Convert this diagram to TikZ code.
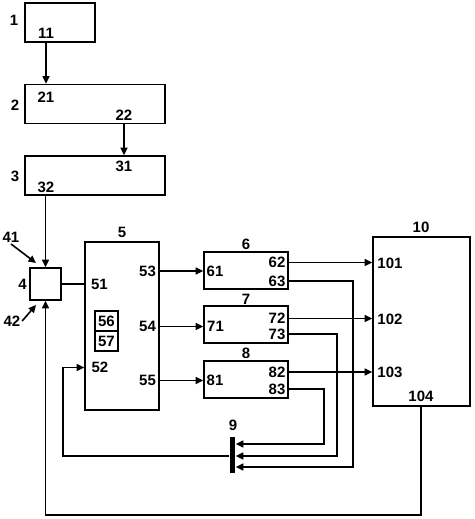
\documentclass[tikz,border=0pt]{standalone}
\usepackage{fontspec}
\setmainfont{Liberation Sans}
\usetikzlibrary{arrows.meta}

\tikzset{
  box/.style={draw, rectangle, inner sep=0pt},
  lbl/.style={inner sep=1pt, font=\fontsize{15}{17}\selectfont\bfseries},
}

\begin{document}
\begin{tikzpicture}[x=1pt, y=-1pt, line width=1.6pt,
    >={Triangle[length=7.5pt,width=7pt]}]
            \useasboundingbox (0,0) rectangle (474,519);
            % blocks
            \node[box, minimum width=70pt, minimum height=39pt] at (60,22.5) (b1) {};
            \node[box, minimum width=140pt, minimum height=39pt] at (95,104) (b2) {};
            \node[box, minimum width=140pt, minimum height=39pt] at (95,175.5) (b3) {};
            \node[box, minimum width=31pt, minimum height=32pt] at (45.5,284) (b4) {};
            \node[box, minimum width=74pt, minimum height=168pt] at (122,326) (b5) {};
            \node[box, minimum width=84pt, minimum height=37pt] at (246,270.5) (b6) {};
            \node[box, minimum width=84pt, minimum height=37pt] at (246,324.5) (b7) {};
            \node[box, minimum width=84pt, minimum height=37pt] at (246,379.5) (b8) {};
            \node[fill, inner sep=0pt, minimum width=5pt, minimum height=36pt] at (232.5,455) (b9) {};
            \node[box, minimum width=97pt, minimum height=169pt] at (421.5,321.5) (b10) {};
            \node[box, lbl, minimum width=23pt, minimum height=20pt] at (106.5,321) (b56) {56};
            \node[box, lbl, minimum width=23pt, minimum height=20pt] at (106.5,341) (b57) {57};
            % labels
            \node[lbl] at (14,20.5) (n1) {1};
            \node[lbl] at (46,33) (p11) {11};
            \node[lbl] at (15,105.5) (n2) {2};
            \node[lbl] at (46,97) (p21) {21};
            \node[lbl] at (124,115) (p22) {22};
            \node[lbl] at (15,176.5) (n3) {3};
            \node[lbl] at (124,166.5) (p31) {31};
            \node[lbl] at (46,187.5) (p32) {32};
            \node[lbl] at (22.5,284.5) (n4) {4};
            \node[lbl] at (11,237) (p41) {41};
            \node[lbl] at (12,321) (p42) {42};
            \node[lbl] at (122,232) (n5) {5};
            \node[lbl] at (99.5,284) (p51) {51};
            \node[lbl] at (100,367.5) (p52) {52};
            \node[lbl] at (147.5,271) (p53) {53};
            \node[lbl] at (147.5,326.5) (p54) {54};
            \node[lbl] at (147.5,380.5) (p55) {55};
            \node[lbl] at (246,244) (n6) {6};
            \node[lbl] at (215,271) (p61) {61};
            \node[lbl] at (277,262.5) (p62) {62};
            \node[lbl] at (277,281) (p63) {63};
            \node[lbl] at (246,299) (n7) {7};
            \node[lbl] at (215.5,326) (p71) {71};
            \node[lbl] at (277,318.5) (p72) {72};
            \node[lbl] at (277,334) (p73) {73};
            \node[lbl] at (246,353) (n8) {8};
            \node[lbl] at (215,380.5) (p81) {81};
            \node[lbl] at (277,372) (p82) {82};
            \node[lbl] at (277,389) (p83) {83};
            \node[lbl] at (233,425) (n9) {9};
            \node[lbl] at (421,227.5) (n10) {10};
            \node[lbl] at (390,263) (p101) {101};
            \node[lbl] at (390,319) (p102) {102};
            \node[lbl] at (390,372.5) (p103) {103};
            \node[lbl] at (421,396) (p104) {104};
            % bends
            \coordinate (t41) at (36,263);
            \coordinate (t42) at (36,305);
            \coordinate (t63) at (353,467);
            \coordinate (t73) at (337,456);
            \coordinate (t83) at (324,444);
            \coordinate (k52) at (63,456);
            \coordinate (k104) at (45.5,515);
            % connections
            \draw[->] (b1.south -| p11) -- (b2.north -| p11);
            \draw[->] (b2.south -| p22) -- (b3.north -| p22);
            \draw[->] (b3.south -| b4) -- (b4.north);
            \draw[->] (p41.south) -- (t41);
            \draw[->] (p42.east) -- (t42);
            \draw (b4.east) -- (b5.west |- b4);
            \draw[->] (b5.east |- p53) -- (b6.west |- p53);
            \draw[->] (b5.east |- p54) -- (b7.west |- p54);
            \draw[->] (b5.east |- p55) -- (b8.west |- p55);
            \draw[->] (b6.east |- p62) -- (b10.west |- p62);
            \draw[->] (b7.east |- p72) -- (b10.west |- p72);
            \draw[->] (b8.east |- p82) -- (b10.west |- p82);
            \draw[->] (b6.east |- p63) -| (t63) -- (b9.east |- t63);
            \draw[->] (b7.east |- p73) -| (t73) -- (b9.east |- t73);
            \draw[->] (b8.east |- p83) -| (t83) -- (b9.east |- t83);
            \draw[->] (b9.west |- k52) -- (k52) |- (b5.west |- p52);
            \draw[->] (b10.south -| p104) |- (k104) -- (b4.south);
        \end{tikzpicture}
\end{document}
